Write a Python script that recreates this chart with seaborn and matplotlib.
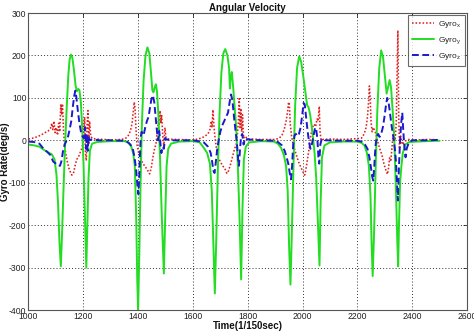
import matplotlib
matplotlib.use("Agg")
import matplotlib.pyplot as plt
import numpy as np
import pandas as pd
import seaborn as sns

# Gyroscope rate traces (deg/s) sampled at 150 Hz, five motion cycles
gyro_x_t = [1000, 1015, 1030, 1045, 1060, 1072, 1080, 1085, 1089, 1093, 1097, 1101, 1106, 1110, 1114, 1118, 1121, 1124,
            1128, 1133, 1140, 1147, 1153, 1158, 1164, 1170, 1176, 1182, 1188, 1194, 1198, 1202, 1205, 1208, 1211, 1214,
            1217, 1220, 1223, 1227, 1232, 1245, 1270, 1300, 1340,
            1355, 1365, 1372, 1378, 1382, 1386, 1389, 1392, 1396, 1402, 1410, 1418, 1426, 1434, 1442, 1448, 1454, 1460,
            1465, 1470, 1474, 1477, 1480, 1483, 1486, 1490, 1494, 1498, 1502, 1510, 1540, 1600,
            1620, 1640, 1655, 1662, 1667, 1670, 1673, 1676, 1680, 1686, 1692, 1700, 1708, 1716, 1724, 1730, 1738, 1746,
            1752, 1758, 1762, 1766, 1769, 1772, 1775, 1778, 1781, 1785, 1790, 1800, 1850, 1900,
            1915, 1925, 1933, 1940, 1945, 1949, 1952, 1955, 1960, 1966, 1973, 1980, 1988, 1995, 2002, 2008, 2012, 2018,
            2024, 2030, 2036, 2042, 2048, 2053, 2057, 2061, 2064, 2068, 2075, 2100, 2150, 2200,
            2215, 2225, 2232, 2237, 2241, 2244, 2247, 2250, 2254, 2258, 2262, 2268, 2275, 2282, 2290, 2297, 2304, 2310,
            2314, 2318, 2322, 2326, 2330, 2334, 2338, 2342, 2345, 2348, 2351, 2354, 2358, 2364, 2372, 2385, 2420, 2460,
            2500]
gyro_x = [3, 5, 8, 12, 18, 22, 28, 40, 25, 45, 18, 30, 12, 40, 20, 85, 60, 86,
          20, -20, -45, -65, -75, -82, -78, -60, -45, -40, -30, -20, -10, 20, 55, -30, -48, 40,
          70, -10, 45, 10, 5, 3, 2, 1, 2,
          5, 12, 22, 40, 65, 90, 75, 30, -10, -30, -45, -55, -62, -70, -79, -65, -40, -20,
          -10, 20, 45, 35, 70, 40, 60, 10, -15, 30, 5, 3, 2, 1,
          3, 8, 15, 25, 45, 30, 72, 40, 10, -20, -40, -50, -60, -66, -78, -72, -55, -35,
          -20, -10, 10, 45, 98, 30, 75, 20, 60, 5, 10, 3, 2, 2,
          5, 12, 25, 45, 65, 90, 85, 40, 10, -10, -25, -40, -55, -65, -75, -82, -70, -45,
          -20, 10, 30, 38, 32, 50, 45, 80, 20, 0, 2, 3, 2, 4,
          5, 15, 30, 55, 90, 128, 100, 45, 20, 30, 25, 15, -5, -20, -35, -55, -70, -80,
          -65, -40, -50, -20, 10, 20, 0, 40, 150, 259, 60, -20, 10, -10, -3, 2, 1, 2,
          1]

gyro_y_t = [1000, 1020, 1040, 1055, 1070, 1085, 1095, 1102, 1108, 1113, 1118, 1122, 1127, 1133, 1139, 1145, 1150, 1155,
            1160, 1166, 1172, 1177, 1182, 1186, 1191, 1196, 1201, 1206, 1211, 1215, 1219, 1224, 1232, 1250, 1300, 1350,
            1365, 1375, 1382, 1388, 1393, 1397, 1400, 1404, 1409, 1414, 1420, 1427, 1434, 1441, 1447, 1452, 1456, 1461,
            1465, 1469, 1474, 1480, 1486, 1494, 1499, 1504, 1510, 1520, 1550, 1600,
            1625, 1640, 1652, 1662, 1669, 1675, 1680, 1685, 1691, 1697, 1704, 1711, 1718, 1726, 1732, 1735, 1738, 1742,
            1747, 1752, 1758, 1764, 1770, 1776, 1781, 1786, 1793, 1805, 1850, 1895,
            1910, 1922, 1932, 1940, 1946, 1951, 1956, 1961, 1967, 1973, 1980, 1988, 1995, 2003, 2011, 2017, 2022, 2028,
            2036, 2044, 2050, 2056, 2062, 2066, 2071, 2080, 2100, 2150, 2200,
            2215, 2226, 2235, 2242, 2248, 2252, 2256, 2261, 2267, 2273, 2280, 2287, 2294, 2301, 2307, 2313, 2318, 2323,
            2329, 2335, 2341, 2346, 2349, 2352, 2356, 2361, 2366, 2375, 2390, 2450, 2500]
gyro_y = [-10, -12, -15, -22, -28, -33, -45, -80, -150, -240, -297, -230, -130, -20, 70, 150, 190, 202,
          195, 165, 128, 116, 121, 118, 90, 30, -60, -180, -300, -200, -90, -25, -8, -4, -2, -2,
          -6, -15, -30, -60, -180, -330, -400, -280, -100, 40, 140, 200, 219, 205, 160, 118, 113, 125,
          132, 115, 60, -40, -170, -314, -180, -60, -20, -8, -3, -2,
          -5, -18, -30, -55, -120, -250, -361, -240, -70, 60, 160, 205, 215, 200, 170, 122, 150, 161,
          125, 80, 30, -60, -180, -328, -160, -45, -15, -5, -2, -3,
          -8, -18, -35, -60, -120, -250, -340, -220, -60, 80, 170, 198, 185, 150, 110, 82, 78, 60,
          20, -30, -90, -190, -295, -150, -40, -12, -5, -3, -3,
          -6, -12, -30, -60, -130, -240, -320, -220, -60, 70, 170, 212, 195, 150, 110, 128, 142, 125,
          70, 0, -120, -240, -297, -200, -100, -60, -30, -10, -4, -2, -1]

gyro_z_t = [1000, 1020, 1040, 1055, 1068, 1080, 1090, 1100, 1108, 1115, 1120, 1126, 1132, 1138, 1144, 1150, 1156, 1162,
            1167, 1171, 1175, 1180, 1186, 1192, 1198, 1203, 1207, 1210, 1213, 1216, 1219, 1223, 1230, 1260, 1300, 1350,
            1360, 1372, 1380, 1387, 1393, 1398, 1401, 1404, 1407, 1410, 1413, 1417, 1421, 1426, 1432, 1438, 1443, 1448,
            1454, 1459, 1464, 1469, 1473, 1477, 1481, 1485, 1489, 1494, 1498, 1504, 1520, 1600,
            1620, 1640, 1655, 1665, 1670, 1675, 1679, 1683, 1688, 1694, 1700, 1707, 1714, 1721, 1728, 1734, 1739, 1744,
            1750, 1756, 1761, 1765, 1768, 1772, 1776, 1780, 1785, 1790, 1800, 1850, 1900,
            1910, 1925, 1935, 1942, 1948, 1954, 1958, 1962, 1966, 1971, 1976, 1981, 1987, 1993, 1999, 2004, 2008, 2013,
            2018, 2024, 2029, 2034, 2040, 2046, 2050, 2054, 2058, 2061, 2065, 2070, 2080, 2150, 2200,
            2215, 2228, 2237, 2244, 2250, 2254, 2258, 2262, 2266, 2271, 2276, 2281, 2287, 2293, 2299, 2304, 2309, 2314,
            2320, 2326, 2332, 2337, 2341, 2345, 2348, 2352, 2356, 2360, 2364, 2367, 2371, 2376, 2380, 2388, 2400, 2450,
            2500]
gyro_z = [-3, -4, -8, -20, -27, -35, -50, -55, -60, -60, -50, -25, -10, -2, 8, 25, 45, 80,
          105, 117, 100, 70, 40, 18, 8, 5, 30, -20, 15, -25, 10, 0, 2, 0, 0, -1,
          -3, -10, -18, -40, -70, -110, -127, -90, -30, 10, 20, 12, 15, 30, 45, 55, 75, 95,
          106, 90, 55, 20, 0, 22, -5, -30, -15, -20, 5, 2, 0, 0,
          -2, -5, -15, -30, -50, -72, -77, -55, -25, 0, 20, 35, 45, 55, 65, 90, 108, 95,
          55, 20, -10, -45, -60, -20, 10, 15, -10, 5, 2, 0, -1,
          -4, -12, -25, -40, -55, -80, -92, -60, -10, 12, 15, 10, 15, 30, 60, 88, 85, 55,
          25, -5, -20, -10, 10, 30, 25, 5, -40, -55, -10, 3, 0, -1, -1,
          -3, -10, -20, -40, -65, -85, -95, -60, -15, 10, 15, 8, 15, 30, 55, 80, 100, 90,
          60, 30, 5, -20, -50, -100, -142, -60, 0, 40, 65, 30, -10, -40, -20, -5, 0, 0,
          1]

x_ticks = [1000, 1200, 1400, 1600, 1800, 2000, 2200, 2400, 2600]
y_ticks = [-400, -300, -200, -100, 0, 100, 200, 300]

series = [
    ("Gyro$_x$", gyro_x_t, gyro_x, "#e02020", (0, (1, 1.2)), 1.15),
    ("Gyro$_y$", gyro_y_t, gyro_y, "#22dd22", "-", 1.4),
    ("Gyro$_z$", gyro_z_t, gyro_z, "#1a1acc", (0, (3.5, 1.8)), 1.4),
]

sns.set_style("white")
plt.rcParams["font.family"] = ["Liberation Sans", "DejaVu Sans"]
plt.rcParams["mathtext.fontset"] = "custom"
plt.rcParams["mathtext.rm"] = "Liberation Sans"
plt.rcParams["mathtext.it"] = "Liberation Sans"

fig = plt.figure(figsize=(4.74, 3.31), dpi=100)
fig.patch.set_facecolor("white")
ax = fig.add_axes([0.0601, 0.0634, 0.925, 0.8973])

for name, t, v, col, ls, lw in series:
    df = pd.DataFrame({"t": t, "rate": v})
    sns.lineplot(data=df, x="t", y="rate", ax=ax, color=col, linestyle=ls,
                 linewidth=lw, estimator=None, sort=False, label=name)

ax.set_xlim(1000, 2600)
ax.set_ylim(-400, 300)
ax.set_xticks(x_ticks)
ax.set_yticks(y_ticks)
ax.set_xticklabels([str(v) for v in x_ticks])
ax.set_yticklabels([str(v) for v in y_ticks])
ax.grid(True, color="#333333", linestyle=(0, (1, 2.2)), linewidth=0.7)
ax.tick_params(direction="in", top=True, right=True, length=3, width=0.6,
               labelsize=6.2, pad=1.5, colors="#222222")
for sp in ax.spines.values():
    sp.set_color("#555555")
    sp.set_linewidth(0.8)

ax.set_title("Angular Velocity", fontsize=7, fontweight="bold", pad=1.5, color="#111111")
ax.set_xlabel("Time(1/150sec)", fontsize=7, fontweight="bold", labelpad=0, color="#111111")
ax.set_ylabel("Gyro Rate(deg/s)", fontsize=7, fontweight="bold", color="#111111")
# keep the y label inside the figure, just left of the tick labels
ax.yaxis.set_label_coords(-0.043, 0.5)

leg = ax.legend(loc="upper right", fontsize=6, frameon=True, fancybox=False,
                edgecolor="#444444", borderaxespad=0.2, handlelength=2.6,
                handletextpad=0.5, labelspacing=0.6, borderpad=0.5)
leg.get_frame().set_linewidth(0.8)

fig.savefig("out.png", dpi=100, facecolor="white")
